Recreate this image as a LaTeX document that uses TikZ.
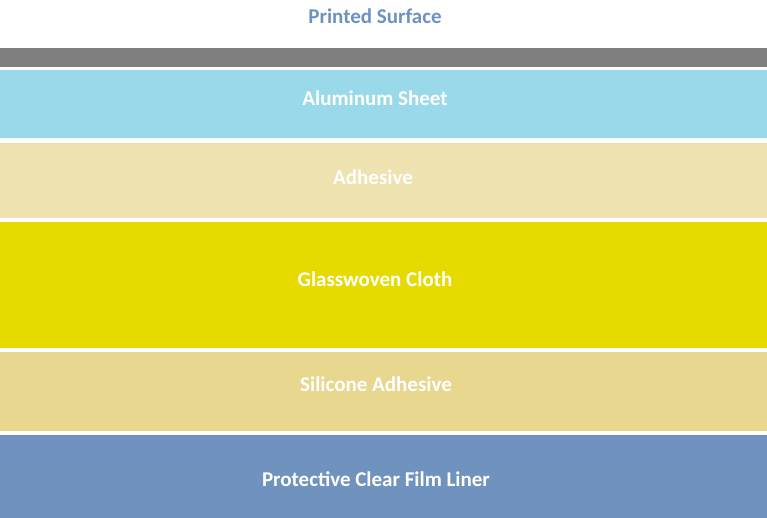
\documentclass[tikz,border=0pt]{standalone}
\usepackage{fontspec}
\setmainfont{Carlito}
\definecolor{printblue}{HTML}{6E92C0}
\definecolor{topgray}{HTML}{7F7F7F}
\definecolor{alublue}{HTML}{9AD9E9}
\definecolor{adhbeige}{HTML}{EEE2B0}
\definecolor{glassyellow}{HTML}{E6DA00}
\definecolor{silbeige}{HTML}{E8D78F}
\definecolor{linerblue}{HTML}{6F92BE}

\begin{document}
\begin{tikzpicture}[x=1pt, y=1pt,
		layer/.style={draw=none, minimum width=767pt, inner sep=0pt},
		layertext/.style={anchor=base, inner sep=0pt, text=white, font=\bfseries\fontsize{21}{24}\selectfont}]
			\useasboundingbox (0,0) rectangle (767,-518);

			\node[layertext, text=printblue] (P) at (375,-24) {Printed Surface};

			\node[layer, fill=topgray, minimum height=19pt] (G) at (383.5,-57.5) {};
			\node[layer, fill=alublue, minimum height=68pt] (A) at (383.5,-104) {};
			\node[layer, fill=adhbeige, minimum height=75pt] (D) at (383.5,-180.5) {};
			\node[layer, fill=glassyellow, minimum height=126pt] (C) at (383.5,-285) {};
			\node[layer, fill=silbeige, minimum height=79pt] (S) at (383.5,-391.5) {};
			\node[layer, fill=linerblue, minimum height=83pt] (L) at (383.5,-476.5) {};

			\node[layertext] (At) at (375,-106) {Aluminum Sheet};
			\node[layertext] (Dt) at (373,-185) {Adhesive};
			\node[layertext] (Ct) at (375,-286) {Glasswoven Cloth};
			\node[layertext] (St) at (376,-391) {Silicone Adhesive};
			\node[layertext] (Lt) at (376,-486) {Protective Clear Film Liner};
		\end{tikzpicture}
\end{document}
